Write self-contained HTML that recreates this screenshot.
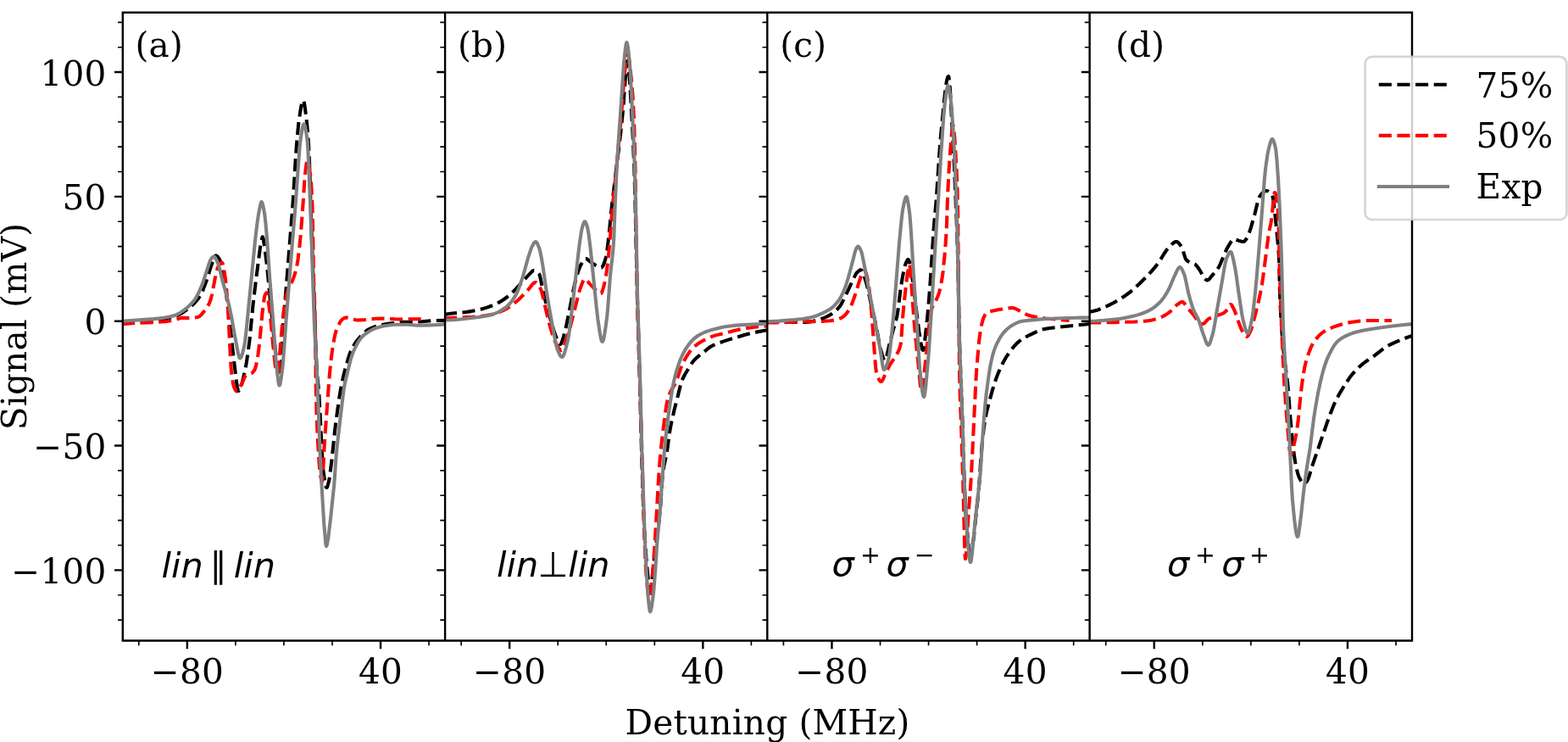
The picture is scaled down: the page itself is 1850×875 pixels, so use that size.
<!DOCTYPE html>
<html><head><meta charset="utf-8"><title>Signal vs Detuning</title>
<style>html,body{margin:0;padding:0;background:#fff;overflow:hidden}svg{display:block}</style>
</head><body>
<svg width="1850" height="875" viewBox="0 0 1850 875"><defs>
<clipPath id="c0"><rect x="144.8" y="14.7" width="380.3" height="740.8"/></clipPath>
<clipPath id="c1"><rect x="525.1" y="14.7" width="380.2" height="740.8"/></clipPath>
<clipPath id="c2"><rect x="905.3" y="14.7" width="380.3" height="740.8"/></clipPath>
<clipPath id="c3"><rect x="1285.6" y="14.7" width="380.4" height="740.8"/></clipPath>
</defs>
<g clip-path="url(#c0)" fill="none" stroke-width="4.08">
<path d="M144.00 380.20 L162.20 380.06 L170.40 379.83 L178.65 378.97 L190.85 377.09 L195.40 376.18 L199.75 375.11 L204.00 373.87 L208.15 372.44 L210.45 371.47 L212.85 370.24 L215.35 368.74 L218.05 366.93 L224.15 362.28 L226.60 360.15 L228.80 358.02 L230.95 355.70 L233.00 353.21 L235.00 350.49 L236.65 347.94 L238.10 345.12 L239.65 341.57 L244.00 330.00 L245.30 326.07 L248.90 314.02 L252.30 304.98 L253.25 302.93 L254.05 301.79 L254.75 301.40 L255.65 301.66 L256.75 302.64 L258.05 304.45 L259.30 306.55 L260.20 308.80 L261.15 312.00 L262.15 316.09 L264.50 327.81 L265.90 337.77 L269.40 366.51 L272.25 391.21 L275.10 417.59 L278.95 449.81 L279.80 455.58 L280.55 459.19 L281.20 460.81 L281.50 461.00 L281.95 460.85 L282.80 459.85 L283.70 457.91 L284.70 454.91 L285.85 450.70 L288.95 437.80 L290.10 431.71 L291.30 424.35 L293.00 412.52 L294.55 400.45 L298.65 358.22 L301.75 332.23 L307.10 291.08 L307.75 287.24 L308.95 281.43 L309.45 279.80 L309.65 279.48 L309.85 279.41 L310.25 280.12 L310.70 281.99 L312.25 291.54 L314.45 308.90 L315.95 323.34 L322.60 391.83 L326.60 428.71 L327.35 433.91 L328.00 437.00 L329.50 441.74 L330.05 442.72 L330.30 442.94 L330.55 442.97 L330.80 442.13 L331.05 440.19 L331.60 432.80 L333.45 394.43 L334.15 382.88 L345.00 247.26 L346.25 229.12 L348.85 185.45 L350.35 165.81 L352.20 146.15 L354.05 133.11 L355.20 126.14 L356.10 121.79 L356.95 119.13 L357.35 118.49 L357.70 118.30 L358.05 118.58 L358.45 119.55 L359.25 123.18 L360.15 129.23 L361.60 140.81 L362.90 153.91 L364.10 171.09 L365.05 190.97 L366.50 240.00 L369.10 316.78 L372.80 414.84 L373.60 433.31 L374.25 443.19 L375.80 457.70 L376.55 467.85 L377.45 484.41 L379.65 530.61 L380.75 548.37 L381.30 554.00 L383.05 566.68 L384.05 571.98 L384.50 573.61 L384.95 574.64 L385.30 574.98 L385.70 574.85 L386.10 574.23 L386.55 573.06 L388.20 566.56 L388.95 562.30 L391.50 541.97 L394.95 508.96 L396.60 495.35 L400.20 469.61 L401.80 459.88 L403.30 452.02 L405.00 444.33 L406.95 436.61 L410.30 424.66 L412.40 417.95 L413.85 414.17 L415.65 410.49 L417.85 406.61 L420.25 402.99 L423.15 399.25 L427.05 394.84 L430.00 391.90 L432.65 389.74 L435.50 388.06 L439.30 386.32 L443.10 384.97 L447.25 383.84 L452.30 382.76 L457.80 381.80 L466.25 380.67 L471.25 380.14 L476.50 379.91 L493.50 379.57 L497.65 379.28 L511.00 378.00 L526.00 377.70" stroke="#000000" stroke-dasharray="15.1 6.53" stroke-linecap="butt" stroke-linejoin="round"/>
<path d="M144.00 382.20 L159.25 381.07 L184.95 379.97 L195.10 379.28 L198.35 378.83 L202.10 378.03 L210.15 375.96 L213.70 374.85 L215.95 374.82 L223.30 375.10 L226.45 375.01 L229.00 374.74 L231.70 374.27 L233.95 373.76 L235.00 373.28 L236.15 372.42 L237.50 371.09 L242.45 365.27 L244.90 361.61 L247.05 357.42 L248.60 353.02 L250.25 346.98 L253.65 328.57 L255.60 320.21 L256.70 316.14 L257.70 313.51 L259.10 311.48 L260.60 309.95 L261.30 309.58 L261.90 309.52 L262.45 310.17 L263.00 311.68 L263.60 314.15 L264.30 317.87 L266.20 330.46 L267.25 340.83 L269.20 368.26 L272.00 424.40 L272.95 438.54 L273.95 446.41 L275.00 452.41 L275.85 455.59 L277.45 459.36 L278.30 460.76 L279.05 461.42 L279.80 461.42 L280.65 460.80 L281.50 459.66 L282.50 457.87 L286.05 450.73 L288.55 445.00 L289.65 443.12 L290.20 442.57 L291.20 442.04 L295.55 440.82 L296.60 440.35 L297.45 439.80 L298.55 438.75 L299.60 437.38 L300.75 435.40 L301.25 434.11 L302.20 430.47 L303.45 424.37 L304.35 418.74 L305.35 411.30 L306.40 401.80 L309.70 367.15 L311.35 354.31 L312.00 350.40 L312.55 348.18 L313.60 346.06 L314.00 345.53 L314.40 345.24 L314.75 345.27 L315.10 345.90 L315.85 349.14 L318.30 367.33 L319.25 376.21 L321.60 401.26 L324.00 424.27 L324.90 431.66 L325.45 434.97 L325.95 436.88 L327.15 439.32 L327.65 439.88 L328.05 439.98 L328.25 439.52 L328.50 438.16 L328.95 433.92 L330.80 407.33 L333.45 378.21 L334.70 367.10 L336.30 357.00 L338.10 347.88 L339.00 344.25 L339.85 341.43 L341.25 338.03 L343.80 333.54 L344.80 331.48 L346.70 326.62 L348.15 322.23 L349.20 318.40 L350.15 314.29 L351.55 305.80 L353.55 289.20 L355.05 273.62 L357.70 238.22 L359.15 215.25 L359.80 206.87 L360.85 198.06 L361.65 192.58 L362.35 189.60 L362.65 189.07 L362.95 189.05 L363.25 189.45 L363.60 190.36 L364.35 193.68 L365.20 199.08 L366.30 207.46 L367.35 219.65 L368.25 236.17 L368.75 252.79 L370.00 325.00 L370.45 339.39 L371.45 363.95 L371.95 382.60 L372.75 457.27 L373.65 491.06 L374.25 505.68 L375.10 521.81 L376.05 537.94 L376.90 549.85 L377.60 557.11 L378.30 561.77 L379.25 566.51 L379.65 567.65 L380.00 568.00 L380.20 567.57 L380.45 565.92 L380.90 560.38 L382.70 524.88 L383.80 508.81 L388.40 446.91 L389.30 436.90 L390.60 424.53 L391.70 415.57 L392.75 408.41 L394.15 400.22 L395.40 394.27 L396.60 390.04 L398.00 386.20 L399.35 383.28 L401.45 379.58 L402.75 377.74 L403.90 376.58 L406.25 375.00 L407.10 374.64 L407.90 374.50 L409.50 374.60 L411.55 374.97 L415.00 375.74 L419.65 377.18 L421.85 377.50 L430.60 377.09 L443.55 375.82 L449.20 375.51 L454.75 375.61 L466.15 376.32 L471.00 376.49 L490.55 376.21 L501.00 376.20" stroke="#ff0000" stroke-dasharray="15.1 6.53" stroke-linecap="butt" stroke-linejoin="round"/>
<path d="M144.00 378.70 L181.25 376.10 L188.45 375.39 L194.85 374.51 L201.35 373.24 L207.00 371.67 L208.80 370.91 L210.70 369.92 L215.05 367.13 L220.50 363.06 L224.70 359.24 L226.80 356.99 L228.80 354.58 L230.45 352.37 L231.85 350.13 L234.95 344.05 L238.55 335.60 L240.00 331.44 L246.50 311.32 L247.90 307.54 L248.85 305.71 L250.55 303.52 L251.60 302.65 L252.05 302.51 L252.50 302.55 L253.00 302.81 L253.50 303.29 L254.60 304.93 L257.05 310.11 L257.75 311.99 L259.00 316.49 L261.90 328.62 L267.25 348.06 L270.40 360.99 L273.10 373.50 L277.10 396.38 L281.05 417.00 L281.80 419.98 L282.45 421.73 L283.05 422.47 L283.35 422.48 L283.70 422.29 L284.30 421.52 L284.90 420.27 L286.25 416.08 L288.15 408.32 L289.10 402.47 L290.60 389.21 L300.65 287.49 L301.95 275.42 L303.80 260.68 L305.20 251.58 L307.40 240.58 L308.10 238.50 L308.40 238.08 L308.70 238.02 L309.25 238.72 L309.80 240.28 L311.15 246.49 L312.30 253.21 L313.40 263.07 L315.10 282.35 L317.90 323.65 L322.10 376.31 L325.40 422.71 L327.25 441.01 L328.20 449.00 L329.05 453.55 L329.45 454.43 L329.65 454.49 L329.85 454.35 L330.25 453.56 L330.65 452.16 L331.60 446.99 L333.15 435.84 L333.95 427.76 L337.45 379.29 L344.65 289.28 L348.75 240.65 L351.30 204.04 L353.80 171.19 L354.70 163.64 L355.85 156.13 L356.75 151.17 L357.35 148.65 L357.90 147.08 L358.45 146.34 L358.70 146.32 L358.95 146.50 L359.60 147.85 L360.25 150.32 L361.70 158.96 L362.75 167.40 L363.50 178.92 L364.45 200.15 L366.80 260.88 L370.85 381.41 L371.60 397.36 L373.40 427.40 L374.20 443.42 L377.85 541.08 L379.40 570.51 L382.30 618.13 L384.05 638.57 L384.60 642.63 L384.85 643.64 L385.10 644.00 L385.50 643.45 L385.90 642.01 L387.30 634.17 L390.10 610.75 L394.20 571.67 L394.90 562.95 L396.25 541.87 L397.70 526.16 L404.50 468.05 L405.80 458.15 L406.55 453.69 L407.55 448.96 L414.05 422.79 L415.30 418.97 L416.95 414.67 L418.65 410.84 L420.55 407.09 L423.30 402.28 L425.65 398.89 L428.30 396.08 L431.40 393.48 L436.00 390.46 L440.60 388.02 L444.85 386.42 L450.30 384.88 L453.55 384.23 L458.90 383.49 L462.95 383.04 L466.45 382.83 L481.40 382.82 L492.15 383.69 L496.45 383.80 L512.25 383.27 L526.00 382.40" stroke="#808080" stroke-linecap="square" stroke-linejoin="round"/>
</g>
<g clip-path="url(#c1)" fill="none" stroke-width="4.08">
<path d="M524.00 371.00 L531.80 369.78 L549.95 368.01 L555.75 367.12 L561.60 366.00 L569.10 364.23 L574.50 362.66 L580.30 360.52 L586.30 357.86 L589.95 355.91 L593.80 353.51 L598.00 350.53 L601.70 347.59 L604.60 344.90 L608.00 341.42 L615.15 333.76 L621.50 326.54 L627.25 320.55 L628.30 319.65 L629.20 319.16 L629.95 319.00 L630.95 319.12 L632.50 319.78 L634.10 321.00 L636.05 323.06 L636.65 324.30 L637.75 328.46 L640.40 342.32 L642.05 349.18 L645.85 363.42 L653.15 389.04 L655.35 395.44 L658.00 401.80 L659.00 403.92 L659.80 405.19 L660.55 405.88 L661.20 405.96 L661.85 405.40 L662.75 403.66 L663.75 400.78 L666.35 391.79 L667.45 387.39 L672.80 361.08 L676.55 341.74 L678.50 332.93 L680.40 325.95 L682.05 320.46 L683.50 316.33 L684.85 313.28 L687.20 308.93 L688.65 306.69 L690.00 305.34 L690.60 305.06 L691.20 305.01 L692.10 305.24 L693.10 305.81 L696.65 308.75 L702.35 312.66 L707.05 315.01 L708.55 315.43 L709.70 315.45 L710.25 315.12 L710.85 314.43 L712.05 312.18 L713.50 308.25 L715.05 303.03 L715.95 297.97 L717.00 289.81 L718.85 273.40 L720.95 251.41 L722.40 238.16 L730.85 168.86 L732.70 152.79 L734.20 138.26 L735.50 124.00 L737.55 95.38 L739.00 78.31 L739.60 73.18 L739.85 72.18 L740.00 72.00 L740.15 72.10 L740.45 72.88 L740.75 74.32 L741.45 79.63 L742.65 91.58 L743.35 100.96 L746.65 160.22 L748.30 198.33 L749.10 225.64 L752.05 354.44 L754.50 436.35 L757.10 537.38 L758.25 574.78 L759.15 598.85 L760.90 634.98 L762.40 657.71 L764.25 677.91 L765.40 688.42 L766.45 694.88 L766.95 696.50 L767.20 696.90 L767.40 697.00 L767.70 696.67 L768.05 695.50 L768.80 690.69 L771.70 660.86 L776.10 626.84 L777.80 612.17 L779.30 596.34 L781.40 564.09 L781.80 560.00 L782.55 554.50 L783.60 548.52 L785.80 538.51 L786.70 533.81 L787.50 528.60 L789.85 510.93 L791.10 503.81 L792.55 496.61 L795.50 483.57 L800.15 465.41 L802.80 454.44 L804.05 450.18 L805.55 446.50 L808.00 441.72 L814.20 431.46 L816.65 427.67 L818.65 425.08 L820.70 422.97 L823.00 420.94 L829.65 415.82 L835.95 410.48 L838.85 408.48 L841.35 407.20 L844.15 405.98 L853.35 402.62 L861.00 400.17 L879.15 394.77 L884.90 393.25 L892.40 391.62 L899.50 390.29 L906.00 389.30" stroke="#000000" stroke-dasharray="15.1 6.53" stroke-linecap="butt" stroke-linejoin="round"/>
<path d="M524.00 375.50 L533.55 374.80 L556.85 373.80 L566.75 373.00 L573.70 372.09 L580.40 370.92 L584.10 369.96 L588.15 368.54 L594.15 365.93 L597.70 364.03 L602.25 361.03 L607.60 356.95 L610.75 354.37 L613.10 352.20 L622.25 342.74 L623.80 340.93 L627.25 336.44 L628.85 334.67 L629.85 333.83 L630.75 333.29 L631.60 333.03 L632.40 333.05 L633.05 333.34 L633.75 333.91 L635.25 335.86 L638.00 341.00 L638.80 343.09 L639.90 347.16 L642.65 359.56 L647.90 381.08 L651.60 393.57 L654.25 401.20 L655.55 404.14 L657.75 408.23 L659.05 410.43 L660.15 411.90 L661.15 412.75 L662.05 413.00 L662.85 412.66 L663.70 411.71 L664.85 409.61 L666.10 406.54 L671.10 391.64 L673.35 383.48 L683.20 344.53 L684.45 340.50 L686.70 334.42 L687.75 331.83 L688.60 330.19 L689.25 329.36 L689.85 329.02 L690.60 329.11 L691.45 329.62 L692.70 330.88 L695.65 334.63 L700.80 339.93 L706.15 344.76 L707.50 345.62 L708.70 345.98 L709.20 345.96 L709.60 345.62 L710.10 344.79 L710.60 343.58 L711.70 339.97 L713.55 332.71 L714.75 326.37 L716.10 317.44 L717.15 309.32 L718.15 299.59 L719.70 282.12 L722.45 246.21 L726.75 204.52 L731.75 150.46 L733.70 127.53 L735.80 98.24 L736.70 87.71 L738.25 74.65 L739.15 68.35 L740.00 64.66 L740.40 64.03 L740.75 64.17 L741.10 64.94 L741.50 66.49 L742.30 71.27 L744.20 86.67 L745.10 95.13 L746.65 115.05 L747.90 138.84 L748.80 167.11 L749.60 204.00 L750.60 285.40 L751.85 351.17 L752.65 379.44 L754.95 448.37 L760.05 627.53 L761.55 663.51 L762.10 672.41 L763.05 684.61 L763.80 692.16 L764.45 696.73 L765.80 703.05 L766.30 704.47 L766.55 704.86 L766.80 705.00 L767.15 703.89 L767.50 701.05 L768.40 690.98 L770.15 673.93 L771.25 660.37 L773.15 631.47 L777.20 561.61 L778.35 545.67 L779.55 532.26 L780.85 519.77 L784.90 487.11 L786.00 479.70 L786.95 474.38 L787.80 470.70 L788.85 467.39 L790.00 464.39 L791.30 461.59 L795.90 453.64 L797.75 449.85 L799.45 445.42 L803.20 434.35 L804.70 430.50 L807.85 424.17 L811.10 418.60 L814.15 414.27 L817.45 410.55 L821.20 407.10 L825.20 404.17 L829.70 401.57 L835.85 398.64 L840.60 396.62 L844.40 395.37 L853.45 393.34 L864.95 390.26 L875.35 387.86 L880.90 386.91 L888.25 385.98 L897.70 385.09 L906.00 384.50" stroke="#ff0000" stroke-dasharray="15.1 6.53" stroke-linecap="butt" stroke-linejoin="round"/>
<path d="M524.00 377.50 L534.70 377.21 L545.60 376.32 L564.70 373.98 L570.30 373.11 L575.25 372.15 L581.55 370.55 L584.15 369.62 L586.75 368.50 L589.65 367.02 L592.55 365.31 L595.90 363.07 L597.90 361.51 L601.25 358.23 L604.55 354.16 L608.10 348.84 L610.10 344.91 L612.80 338.15 L616.60 327.18 L618.30 321.41 L622.85 304.72 L626.55 293.28 L627.75 290.46 L630.00 286.64 L631.20 285.30 L631.75 285.03 L632.25 285.04 L633.00 285.62 L633.85 286.94 L636.10 292.26 L637.10 295.77 L638.40 301.92 L640.30 312.55 L644.40 341.16 L647.50 360.09 L650.80 378.71 L654.85 400.31 L656.25 407.03 L657.70 412.23 L660.35 418.19 L661.25 419.68 L662.10 420.63 L662.90 421.00 L663.60 420.78 L664.30 420.01 L665.05 418.65 L665.85 416.65 L666.70 414.03 L668.05 409.07 L670.00 401.00 L670.95 396.10 L671.95 389.33 L673.10 380.12 L677.90 338.82 L682.70 295.98 L683.95 286.05 L685.60 274.84 L686.70 269.10 L687.85 265.24 L688.70 262.88 L689.40 261.59 L689.75 261.27 L690.05 261.20 L690.55 261.53 L691.10 262.42 L692.35 265.84 L693.40 269.60 L694.35 275.03 L696.60 292.48 L704.00 364.69 L705.40 376.84 L707.75 392.34 L709.00 399.14 L709.55 401.24 L710.10 402.58 L710.60 403.00 L710.85 402.91 L711.15 402.56 L711.65 401.47 L712.15 399.78 L713.25 394.34 L714.50 386.14 L716.25 372.96 L717.25 361.94 L720.00 325.00 L720.80 317.20 L722.60 302.14 L723.50 292.53 L724.05 284.92 L724.40 277.95 L725.70 242.45 L727.10 209.94 L728.10 191.49 L729.35 171.52 L732.85 122.18 L735.05 88.07 L736.00 75.26 L737.40 61.48 L738.25 54.41 L739.00 50.60 L739.30 50.04 L739.45 50.01 L739.65 50.20 L740.00 51.09 L740.40 52.87 L741.25 58.73 L742.65 71.47 L743.35 80.25 L744.95 108.63 L747.60 165.20 L748.80 197.81 L749.65 227.66 L750.65 272.29 L751.80 336.04 L752.40 360.26 L754.90 436.49 L757.40 533.58 L760.50 626.76 L761.90 659.70 L763.90 694.55 L764.45 701.48 L765.85 715.39 L766.50 719.78 L766.80 720.90 L767.10 721.30 L767.50 720.94 L767.90 719.91 L768.85 715.35 L770.75 701.62 L771.45 694.97 L773.40 669.61 L775.25 640.66 L776.10 630.56 L778.95 600.63 L780.95 570.69 L783.35 538.60 L784.85 521.50 L786.80 503.77 L788.60 489.85 L791.00 473.24 L792.95 460.91 L794.60 451.89 L796.30 444.32 L798.20 437.28 L800.65 429.59 L803.00 423.28 L805.75 417.33 L808.90 411.72 L812.55 406.41 L816.25 401.89 L819.25 399.00 L823.30 396.00 L827.20 393.75 L832.15 391.50 L837.50 389.61 L843.45 387.99 L854.00 385.56 L861.35 384.42 L868.65 383.61 L877.60 382.98 L892.45 382.26 L906.00 381.80" stroke="#808080" stroke-linecap="square" stroke-linejoin="round"/>
</g>
<g clip-path="url(#c2)" fill="none" stroke-width="4.08">
<path d="M904.00 380.00 L950.10 380.00 L953.35 379.82 L955.95 379.47 L958.75 378.91 L965.30 377.12 L972.30 374.83 L974.80 373.75 L977.40 372.41 L981.90 369.67 L985.10 367.26 L988.30 364.23 L991.15 360.84 L992.90 358.05 L994.95 354.14 L1000.40 342.81 L1005.50 331.62 L1009.65 323.38 L1010.80 321.71 L1013.20 319.40 L1014.65 318.50 L1015.30 318.32 L1015.85 318.34 L1016.40 318.71 L1016.95 319.41 L1018.20 321.98 L1021.20 330.58 L1022.30 334.33 L1023.65 339.88 L1026.55 353.04 L1033.05 381.35 L1034.35 387.87 L1037.20 403.95 L1038.45 409.91 L1040.80 418.38 L1042.05 422.21 L1042.65 423.58 L1043.20 424.48 L1043.70 424.92 L1044.20 424.95 L1044.60 424.57 L1045.05 423.73 L1046.00 420.82 L1049.20 406.75 L1054.20 387.76 L1057.10 377.84 L1058.40 372.38 L1059.65 364.66 L1062.80 338.87 L1065.15 325.27 L1066.85 316.86 L1067.85 312.95 L1068.80 310.22 L1070.45 306.88 L1071.05 306.18 L1071.55 306.00 L1071.95 306.31 L1072.40 307.18 L1073.30 310.31 L1074.25 315.02 L1076.25 326.44 L1077.55 335.64 L1080.65 362.22 L1084.35 391.00 L1086.60 404.58 L1087.50 409.28 L1088.00 411.24 L1088.45 412.44 L1088.90 412.98 L1089.25 412.81 L1089.70 411.59 L1090.15 409.40 L1091.25 401.13 L1094.10 374.73 L1096.10 352.32 L1097.75 330.50 L1101.65 269.61 L1104.60 236.50 L1108.30 181.26 L1109.80 162.10 L1113.55 122.65 L1115.45 105.44 L1116.40 98.71 L1117.30 93.89 L1118.15 91.01 L1118.60 90.23 L1119.00 90.00 L1119.30 90.44 L1119.60 91.71 L1120.25 96.97 L1120.95 105.78 L1121.80 119.59 L1125.65 190.98 L1128.70 261.27 L1130.15 305.84 L1131.60 382.81 L1132.20 406.85 L1133.00 430.12 L1134.95 478.57 L1137.25 553.66 L1138.35 581.93 L1139.50 605.25 L1140.45 619.42 L1141.80 634.48 L1142.70 643.11 L1143.55 649.05 L1143.95 650.82 L1144.30 651.74 L1144.50 651.97 L1144.70 651.99 L1145.20 651.49 L1145.70 650.37 L1146.25 648.51 L1147.50 642.48 L1148.90 633.77 L1150.30 619.02 L1153.35 591.12 L1154.75 576.83 L1155.60 566.30 L1157.65 536.29 L1159.10 519.94 L1160.65 505.63 L1162.35 494.36 L1163.55 488.09 L1164.75 482.86 L1170.50 461.43 L1172.40 455.07 L1175.15 446.81 L1177.75 439.89 L1180.55 433.51 L1183.65 427.23 L1187.45 420.60 L1192.00 414.03 L1196.65 408.18 L1198.80 405.83 L1200.90 403.82 L1202.60 402.40 L1205.00 400.65 L1209.90 397.59 L1214.75 395.04 L1225.45 389.91 L1227.65 389.05 L1229.75 388.51 L1233.70 387.74 L1238.35 387.05 L1258.65 384.66 L1286.00 382.00" stroke="#000000" stroke-dasharray="15.1 6.53" stroke-linecap="butt" stroke-linejoin="round"/>
<path d="M904.00 380.60 L915.60 380.41 L930.45 379.98 L947.55 379.03 L963.50 379.20 L971.95 378.84 L979.60 378.23 L985.60 377.36 L989.00 376.38 L992.75 374.76 L994.30 373.85 L995.70 372.84 L996.85 371.80 L998.05 370.48 L1000.80 366.68 L1003.60 361.86 L1005.90 356.37 L1009.45 346.16 L1013.55 332.62 L1016.55 323.45 L1017.35 321.73 L1018.65 319.92 L1019.55 319.12 L1019.95 319.00 L1020.25 319.07 L1020.90 319.85 L1021.65 321.67 L1022.45 324.41 L1023.45 328.57 L1024.65 334.50 L1025.85 343.64 L1028.35 368.93 L1032.55 425.89 L1033.15 432.90 L1033.65 437.18 L1033.95 438.81 L1034.95 442.20 L1035.90 444.93 L1036.80 447.02 L1037.60 448.45 L1038.40 449.43 L1039.20 449.94 L1039.90 449.94 L1040.70 449.27 L1041.65 447.70 L1044.65 440.71 L1049.90 430.17 L1051.70 427.35 L1055.80 421.78 L1057.70 418.59 L1059.70 414.75 L1060.60 412.75 L1061.50 410.21 L1062.30 407.27 L1063.00 404.00 L1063.30 401.57 L1064.75 378.40 L1065.25 372.06 L1066.65 357.38 L1068.85 337.41 L1069.95 328.15 L1070.85 321.88 L1072.25 313.85 L1072.65 312.44 L1072.85 312.09 L1073.05 312.02 L1073.30 312.60 L1073.60 314.27 L1074.20 320.14 L1078.50 378.88 L1080.40 400.20 L1083.35 428.33 L1085.85 454.19 L1086.80 460.42 L1087.25 461.79 L1087.45 461.99 L1087.65 461.91 L1087.95 461.21 L1088.30 459.64 L1089.05 454.13 L1091.80 427.49 L1094.60 398.58 L1097.00 377.33 L1098.25 368.39 L1098.90 365.34 L1099.90 362.49 L1100.90 360.41 L1103.00 356.95 L1103.90 355.22 L1106.45 349.46 L1108.05 344.83 L1109.30 339.99 L1110.50 334.13 L1111.75 326.66 L1112.65 320.03 L1114.45 301.56 L1115.80 285.28 L1116.45 275.77 L1117.05 263.74 L1117.55 245.43 L1118.45 223.38 L1119.40 204.21 L1120.40 188.00 L1122.15 165.51 L1123.05 155.59 L1123.85 149.69 L1124.25 148.26 L1124.45 148.01 L1124.60 148.05 L1124.85 148.63 L1125.10 149.81 L1125.60 153.76 L1126.80 169.65 L1128.65 202.01 L1129.60 227.83 L1130.20 257.22 L1131.60 408.23 L1132.10 443.70 L1132.70 465.81 L1133.90 497.06 L1136.10 563.25 L1138.10 643.54 L1138.55 654.78 L1138.80 658.13 L1139.00 659.00 L1139.25 658.54 L1139.55 656.87 L1140.20 649.78 L1142.80 602.95 L1145.15 572.63 L1146.00 560.00 L1151.45 448.16 L1152.60 430.42 L1154.65 407.20 L1155.50 399.48 L1156.45 392.42 L1157.40 386.49 L1158.25 382.42 L1159.55 377.45 L1160.75 374.05 L1162.25 371.10 L1163.45 369.44 L1164.90 368.52 L1167.30 367.55 L1170.45 366.72 L1178.80 365.09 L1190.80 363.24 L1194.25 363.00 L1196.20 363.33 L1198.50 364.21 L1205.40 367.68 L1210.20 370.37 L1212.35 371.41 L1214.05 372.01 L1218.00 373.01 L1224.55 374.23 L1233.40 375.42 L1261.50 378.00" stroke="#ff0000" stroke-dasharray="15.1 6.53" stroke-linecap="butt" stroke-linejoin="round"/>
<path d="M904.00 379.40 L918.70 378.64 L937.00 377.09 L947.30 375.94 L956.15 374.43 L959.95 373.51 L962.25 372.77 L971.30 368.82 L974.60 367.24 L977.65 365.58 L979.95 364.17 L981.90 362.74 L983.50 361.28 L985.50 359.13 L988.25 355.96 L990.00 353.65 L991.40 351.45 L992.80 348.92 L995.65 342.85 L998.00 336.71 L1000.80 327.48 L1003.45 317.99 L1009.10 296.08 L1010.35 293.02 L1011.20 291.36 L1011.90 290.59 L1012.20 290.50 L1012.60 290.59 L1013.25 291.06 L1013.95 291.96 L1015.70 295.34 L1016.50 297.40 L1017.40 301.09 L1020.45 316.25 L1024.80 339.95 L1031.90 376.48 L1038.05 409.27 L1041.45 431.60 L1042.00 434.05 L1042.55 435.58 L1043.00 436.00 L1043.75 435.66 L1044.65 434.46 L1045.60 432.41 L1046.70 429.30 L1048.05 424.82 L1048.95 420.47 L1049.90 413.84 L1051.50 399.61 L1054.10 373.45 L1061.05 285.61 L1063.65 258.60 L1065.00 247.82 L1066.65 239.51 L1067.50 235.95 L1068.20 233.70 L1068.90 232.32 L1069.20 232.05 L1069.50 232.02 L1069.95 232.61 L1070.45 234.12 L1071.60 240.13 L1073.20 251.58 L1074.10 261.35 L1075.20 277.69 L1077.80 321.94 L1082.15 387.28 L1084.35 423.30 L1085.25 435.38 L1087.05 452.42 L1088.25 461.78 L1088.80 464.91 L1089.30 466.90 L1089.80 467.91 L1090.05 467.99 L1090.25 467.82 L1090.75 466.44 L1091.25 463.87 L1092.35 454.90 L1095.20 422.72 L1096.15 410.26 L1099.70 353.68 L1104.50 272.78 L1107.15 233.85 L1110.25 181.30 L1113.30 137.67 L1114.60 123.28 L1116.55 108.76 L1117.20 104.93 L1117.80 102.38 L1118.35 101.14 L1118.60 101.00 L1118.85 101.16 L1119.20 101.87 L1119.60 103.30 L1120.50 108.41 L1122.10 120.83 L1122.80 127.93 L1124.50 152.56 L1126.50 189.63 L1127.90 223.63 L1129.05 259.70 L1130.10 304.54 L1131.50 378.53 L1132.15 405.18 L1132.95 428.81 L1135.00 480.00 L1137.80 569.15 L1139.65 607.25 L1141.80 637.22 L1142.80 649.35 L1143.60 657.00 L1144.35 661.61 L1144.70 662.69 L1145.00 663.00 L1145.40 662.48 L1145.85 660.76 L1146.80 653.98 L1149.75 622.32 L1156.30 562.20 L1157.10 551.75 L1158.90 521.45 L1160.60 497.90 L1162.25 478.02 L1163.80 463.59 L1167.05 439.55 L1168.15 432.90 L1169.55 425.87 L1171.00 419.61 L1172.40 414.69 L1174.30 409.35 L1176.35 404.70 L1179.15 399.48 L1181.95 395.09 L1184.40 391.99 L1188.00 388.26 L1191.35 385.46 L1194.90 383.22 L1199.55 380.79 L1201.60 379.95 L1203.50 379.33 L1207.30 378.58 L1212.55 377.90 L1225.60 376.63 L1234.95 375.99 L1245.95 375.45 L1259.85 375.00 L1274.05 374.64 L1286.00 374.50" stroke="#808080" stroke-linecap="square" stroke-linejoin="round"/>
</g>
<g clip-path="url(#c3)" fill="none" stroke-width="4.08">
<path d="M1284.00 368.00 L1289.60 367.09 L1294.35 365.80 L1299.80 363.74 L1306.75 360.56 L1314.05 356.96 L1320.60 353.24 L1327.60 348.69 L1333.60 344.25 L1338.55 340.03 L1344.20 334.74 L1352.00 326.97 L1357.75 320.86 L1362.50 315.37 L1366.70 310.06 L1368.90 306.74 L1374.20 298.04 L1376.90 294.25 L1381.40 289.32 L1383.35 287.38 L1385.25 285.92 L1386.95 285.14 L1387.80 285.01 L1388.50 285.06 L1389.25 285.37 L1390.00 285.90 L1391.75 287.80 L1394.15 291.24 L1395.35 294.17 L1398.15 303.42 L1398.85 305.12 L1399.45 306.06 L1401.20 307.77 L1403.20 309.09 L1405.00 309.91 L1409.00 311.12 L1410.00 311.62 L1410.85 312.27 L1412.75 314.49 L1416.05 319.38 L1419.45 326.02 L1420.70 327.98 L1422.35 329.48 L1423.60 330.29 L1424.60 330.50 L1425.60 330.12 L1426.90 328.92 L1429.70 325.34 L1434.45 320.01 L1436.35 317.52 L1438.00 315.00 L1439.80 311.33 L1443.65 301.77 L1447.75 292.96 L1449.65 289.53 L1452.60 284.97 L1453.95 283.21 L1455.20 282.20 L1455.75 282.02 L1456.35 282.03 L1461.80 283.95 L1465.10 284.79 L1467.10 285.00 L1467.80 284.77 L1468.55 284.19 L1470.40 281.86 L1471.45 280.27 L1472.45 278.10 L1474.40 272.89 L1475.80 268.63 L1480.40 252.54 L1484.10 237.08 L1484.90 234.44 L1485.60 232.70 L1487.15 230.38 L1489.05 228.02 L1490.65 226.47 L1492.10 225.50 L1493.50 225.04 L1494.90 225.08 L1496.40 225.58 L1497.90 226.54 L1499.50 228.07 L1501.05 230.08 L1501.50 231.43 L1502.00 234.05 L1502.80 239.92 L1504.75 256.52 L1508.10 290.86 L1508.70 298.68 L1509.10 306.50 L1509.90 341.77 L1510.55 358.85 L1511.45 376.32 L1512.65 394.18 L1513.80 408.01 L1515.15 421.35 L1516.05 428.48 L1518.15 442.88 L1519.20 451.96 L1520.10 462.40 L1522.70 496.73 L1524.70 517.44 L1526.15 530.90 L1527.15 538.70 L1528.10 544.54 L1529.90 553.38 L1531.50 559.55 L1532.80 563.09 L1535.25 567.63 L1536.85 569.72 L1537.60 570.28 L1538.30 570.50 L1538.90 570.42 L1539.55 570.08 L1541.10 568.59 L1542.50 566.76 L1543.65 564.24 L1544.90 560.56 L1548.25 549.44 L1565.50 499.18 L1570.35 485.93 L1573.70 477.57 L1577.15 470.32 L1581.25 462.84 L1587.95 451.87 L1592.70 444.85 L1595.60 441.19 L1599.40 436.95 L1603.15 433.20 L1607.00 429.77 L1611.55 426.25 L1621.95 419.20 L1631.05 412.05 L1634.70 409.42 L1639.20 406.81 L1645.10 404.06 L1657.05 399.14 L1667.00 395.50" stroke="#000000" stroke-dasharray="15.1 6.53" stroke-linecap="butt" stroke-linejoin="round"/>
<path d="M1284.00 380.60 L1313.30 380.14 L1338.70 379.46 L1344.75 379.13 L1350.40 378.66 L1356.20 377.97 L1359.40 377.39 L1363.60 376.27 L1368.25 374.68 L1371.60 373.31 L1374.70 371.63 L1377.80 369.61 L1380.70 367.43 L1382.30 365.85 L1385.95 361.83 L1387.75 360.19 L1392.30 356.86 L1393.70 356.22 L1395.00 356.00 L1395.50 356.09 L1396.00 356.36 L1397.15 357.48 L1400.60 362.51 L1408.05 371.06 L1411.85 376.54 L1413.25 378.29 L1415.45 380.21 L1416.95 381.31 L1418.15 381.87 L1419.25 381.98 L1420.10 381.68 L1421.00 381.04 L1424.75 376.98 L1425.60 376.25 L1426.55 375.70 L1430.65 373.92 L1441.70 370.09 L1444.40 368.75 L1445.90 367.42 L1448.05 364.94 L1448.75 363.85 L1450.80 359.99 L1451.45 359.23 L1452.05 359.00 L1452.85 359.42 L1453.70 360.53 L1456.55 366.17 L1457.75 369.34 L1460.80 378.47 L1463.80 386.37 L1465.40 389.94 L1467.95 394.19 L1469.35 396.05 L1470.00 396.63 L1470.65 396.95 L1471.20 396.98 L1471.75 396.73 L1472.85 395.49 L1474.15 393.11 L1476.25 388.41 L1477.35 385.10 L1483.60 361.01 L1486.00 350.49 L1487.75 341.99 L1489.10 334.39 L1490.10 327.62 L1496.45 278.49 L1497.35 273.03 L1499.35 263.61 L1500.20 258.65 L1503.05 230.64 L1503.65 227.54 L1503.90 227.05 L1504.20 227.06 L1504.70 227.77 L1505.20 229.23 L1506.25 234.63 L1507.45 244.37 L1508.20 253.26 L1508.70 269.03 L1509.90 321.50 L1511.40 368.73 L1513.30 416.11 L1515.05 449.33 L1516.95 477.20 L1520.55 520.93 L1521.25 527.94 L1521.85 532.58 L1522.45 535.55 L1522.75 536.30 L1523.00 536.50 L1523.50 536.15 L1524.00 535.19 L1525.15 531.25 L1528.55 515.92 L1530.35 505.94 L1531.60 496.59 L1534.10 470.28 L1535.75 456.09 L1537.60 442.28 L1539.25 433.31 L1540.50 427.91 L1541.80 423.16 L1543.35 418.39 L1545.20 413.35 L1546.85 409.38 L1548.45 406.10 L1549.80 403.80 L1551.95 400.76 L1554.95 397.10 L1557.95 394.09 L1560.90 391.73 L1564.35 389.61 L1568.55 387.51 L1573.30 385.59 L1580.20 383.31 L1586.60 381.50 L1590.40 380.63 L1593.90 380.01 L1603.00 378.75 L1609.35 378.15 L1613.70 378.00 L1642.00 378.00" stroke="#ff0000" stroke-dasharray="15.1 6.53" stroke-linecap="butt" stroke-linejoin="round"/>
<path d="M1284.00 378.80 L1293.05 378.56 L1303.25 377.81 L1320.60 375.93 L1327.80 374.80 L1336.90 372.80 L1341.40 371.62 L1345.10 370.50 L1348.60 369.26 L1351.95 367.90 L1355.40 366.30 L1358.00 364.90 L1360.25 363.47 L1362.50 361.84 L1367.05 357.92 L1370.25 354.54 L1373.55 350.15 L1376.60 345.38 L1379.00 341.10 L1380.55 337.67 L1384.60 327.92 L1389.40 317.79 L1390.20 316.44 L1390.90 315.57 L1391.55 315.10 L1392.20 315.02 L1392.70 315.23 L1393.25 315.70 L1394.40 317.35 L1395.90 320.44 L1397.50 324.39 L1398.65 328.95 L1401.90 344.61 L1405.00 355.98 L1407.40 363.43 L1409.10 367.50 L1412.75 374.29 L1414.30 377.74 L1415.65 381.60 L1419.05 392.41 L1423.25 403.86 L1424.00 405.44 L1424.65 406.42 L1425.30 406.94 L1425.90 406.93 L1426.45 406.47 L1427.00 405.62 L1428.25 402.55 L1431.05 392.82 L1431.95 388.96 L1433.15 382.40 L1435.75 366.43 L1442.40 328.77 L1444.65 315.28 L1446.05 308.19 L1446.95 305.12 L1449.35 299.74 L1450.10 298.49 L1450.80 297.63 L1451.45 297.14 L1452.05 297.00 L1452.50 297.29 L1453.00 298.12 L1454.10 301.45 L1455.20 306.21 L1457.50 317.57 L1458.60 324.48 L1461.35 344.64 L1464.10 362.98 L1465.35 370.85 L1466.40 376.44 L1468.75 385.77 L1470.15 390.32 L1470.80 391.80 L1471.40 392.69 L1472.00 393.00 L1472.55 392.71 L1473.45 391.13 L1474.45 388.08 L1475.60 383.43 L1477.25 375.76 L1478.55 367.08 L1480.15 353.04 L1481.45 340.55 L1482.65 327.18 L1487.80 265.07 L1491.85 211.94 L1492.65 203.16 L1493.50 195.94 L1495.30 183.39 L1496.15 178.73 L1496.95 175.19 L1498.65 168.75 L1499.70 165.64 L1500.20 164.66 L1500.65 164.13 L1501.10 164.01 L1501.60 164.32 L1502.50 165.87 L1503.45 168.66 L1504.80 174.09 L1505.40 177.39 L1506.55 189.23 L1508.15 212.33 L1509.85 246.57 L1511.50 288.60 L1512.30 314.97 L1513.65 373.97 L1514.30 392.24 L1515.10 408.17 L1516.85 436.37 L1521.00 510.00 L1524.05 575.82 L1524.95 589.44 L1526.65 607.42 L1527.90 618.86 L1528.75 625.14 L1529.55 629.58 L1530.30 632.17 L1530.65 632.79 L1531.00 633.00 L1531.40 632.53 L1531.80 631.22 L1532.70 625.99 L1535.10 607.33 L1537.95 581.09 L1540.40 561.86 L1542.15 549.73 L1545.50 529.70 L1549.80 495.18 L1551.70 482.79 L1553.75 470.76 L1555.65 460.74 L1557.65 451.27 L1559.55 443.16 L1561.30 436.67 L1563.65 429.23 L1565.75 423.47 L1567.35 419.81 L1570.55 413.57 L1572.90 409.47 L1575.05 406.19 L1577.10 403.60 L1579.05 401.70 L1582.85 398.96 L1586.90 396.57 L1591.20 394.54 L1595.85 392.81 L1601.45 391.20 L1607.85 389.74 L1614.80 388.47 L1626.10 386.67 L1635.05 385.41 L1645.10 384.19 L1656.50 382.96 L1667.00 382.00" stroke="#808080" stroke-linecap="square" stroke-linejoin="round"/>
</g>
<path d="M144.8 14.7V755.5M525.1 14.7V755.5M905.3 14.7V755.5M1285.6 14.7V755.5M1666 14.7V755.5M144.8 14.7H1666M144.8 755.5H1666" stroke="#000" stroke-width="2.4" fill="none" stroke-linecap="square"/>
<path d="M144.8 672.35h-9.8M144.8 525.52h-9.8M144.8 378.7h-9.8M144.8 231.87h-9.8M144.8 85.05h-9.8M220.86 755.5v9.8M449.04 755.5v9.8M525.1 672.35h-9.8M525.1 525.52h-9.8M525.1 378.7h-9.8M525.1 231.87h-9.8M525.1 85.05h-9.8M601.16 755.5v9.8M829.34 755.5v9.8M905.3 672.35h-9.8M905.3 525.52h-9.8M905.3 378.7h-9.8M905.3 231.87h-9.8M905.3 85.05h-9.8M981.46 755.5v9.8M1209.64 755.5v9.8M1285.6 672.35h-9.8M1285.6 525.52h-9.8M1285.6 378.7h-9.8M1285.6 231.87h-9.8M1285.6 85.05h-9.8M1361.76 755.5v9.8M1589.94 755.5v9.8" stroke="#000" stroke-width="2.4" fill="none"/>
<path d="M144.8 731.08h-5.8M144.8 701.71h-5.8M144.8 642.99h-5.8M144.8 613.62h-5.8M144.8 584.25h-5.8M144.8 554.89h-5.8M144.8 496.16h-5.8M144.8 466.79h-5.8M144.8 437.43h-5.8M144.8 408.06h-5.8M144.8 349.33h-5.8M144.8 319.97h-5.8M144.8 290.61h-5.8M144.8 261.24h-5.8M144.8 202.51h-5.8M144.8 173.14h-5.8M144.8 143.78h-5.8M144.8 114.41h-5.8M144.8 55.69h-5.8M144.8 26.32h-5.8M163.81 755.5v5.8M277.9 755.5v5.8M334.95 755.5v5.8M392 755.5v5.8M506.08 755.5v5.8M525.1 731.08h-5.8M525.1 701.71h-5.8M525.1 642.99h-5.8M525.1 613.62h-5.8M525.1 584.25h-5.8M525.1 554.89h-5.8M525.1 496.16h-5.8M525.1 466.79h-5.8M525.1 437.43h-5.8M525.1 408.06h-5.8M525.1 349.33h-5.8M525.1 319.97h-5.8M525.1 290.61h-5.8M525.1 261.24h-5.8M525.1 202.51h-5.8M525.1 173.14h-5.8M525.1 143.78h-5.8M525.1 114.41h-5.8M525.1 55.69h-5.8M525.1 26.32h-5.8M544.12 755.5v5.8M658.21 755.5v5.8M715.25 755.5v5.8M772.3 755.5v5.8M886.38 755.5v5.8M905.3 731.08h-5.8M905.3 701.71h-5.8M905.3 642.99h-5.8M905.3 613.62h-5.8M905.3 584.25h-5.8M905.3 554.89h-5.8M905.3 496.16h-5.8M905.3 466.79h-5.8M905.3 437.43h-5.8M905.3 408.06h-5.8M905.3 349.33h-5.8M905.3 319.97h-5.8M905.3 290.61h-5.8M905.3 261.24h-5.8M905.3 202.51h-5.8M905.3 173.14h-5.8M905.3 143.78h-5.8M905.3 114.41h-5.8M905.3 55.69h-5.8M905.3 26.32h-5.8M924.42 755.5v5.8M1038.51 755.5v5.8M1095.55 755.5v5.8M1152.6 755.5v5.8M1266.68 755.5v5.8M1285.6 731.08h-5.8M1285.6 701.71h-5.8M1285.6 642.99h-5.8M1285.6 613.62h-5.8M1285.6 584.25h-5.8M1285.6 554.89h-5.8M1285.6 496.16h-5.8M1285.6 466.79h-5.8M1285.6 437.43h-5.8M1285.6 408.06h-5.8M1285.6 349.33h-5.8M1285.6 319.97h-5.8M1285.6 290.61h-5.8M1285.6 261.24h-5.8M1285.6 202.51h-5.8M1285.6 173.14h-5.8M1285.6 143.78h-5.8M1285.6 114.41h-5.8M1285.6 55.69h-5.8M1285.6 26.32h-5.8M1304.72 755.5v5.8M1418.81 755.5v5.8M1475.85 755.5v5.8M1532.89 755.5v5.8M1646.99 755.5v5.8" stroke="#000" stroke-width="1.63" fill="none"/>
<text x="125.5" y="100.65" text-anchor="end" style="font-family:'DejaVu Serif','Liberation Serif',serif;letter-spacing:0.2px;font-size:40.6px">100</text>
<text x="125.5" y="247.47" text-anchor="end" style="font-family:'DejaVu Serif','Liberation Serif',serif;letter-spacing:0.2px;font-size:40.6px">50</text>
<text x="125.5" y="394.3" text-anchor="end" style="font-family:'DejaVu Serif','Liberation Serif',serif;letter-spacing:0.2px;font-size:40.6px">0</text>
<text x="125.5" y="541.12" text-anchor="end" style="font-family:'DejaVu Serif','Liberation Serif',serif;letter-spacing:0.2px;font-size:40.6px">−50</text>
<text x="125.5" y="687.95" text-anchor="end" style="font-family:'DejaVu Serif','Liberation Serif',serif;letter-spacing:0.2px;font-size:40.6px">−100</text>
<text x="220.86" y="806" text-anchor="middle" style="font-family:'DejaVu Serif','Liberation Serif',serif;letter-spacing:0.2px;font-size:40.6px">−80</text>
<text x="449.04" y="806" text-anchor="middle" style="font-family:'DejaVu Serif','Liberation Serif',serif;letter-spacing:0.2px;font-size:40.6px">40</text>
<text x="601.16" y="806" text-anchor="middle" style="font-family:'DejaVu Serif','Liberation Serif',serif;letter-spacing:0.2px;font-size:40.6px">−80</text>
<text x="829.34" y="806" text-anchor="middle" style="font-family:'DejaVu Serif','Liberation Serif',serif;letter-spacing:0.2px;font-size:40.6px">40</text>
<text x="981.46" y="806" text-anchor="middle" style="font-family:'DejaVu Serif','Liberation Serif',serif;letter-spacing:0.2px;font-size:40.6px">−80</text>
<text x="1209.64" y="806" text-anchor="middle" style="font-family:'DejaVu Serif','Liberation Serif',serif;letter-spacing:0.2px;font-size:40.6px">40</text>
<text x="1361.76" y="806" text-anchor="middle" style="font-family:'DejaVu Serif','Liberation Serif',serif;letter-spacing:0.2px;font-size:40.6px">−80</text>
<text x="1589.94" y="806" text-anchor="middle" style="font-family:'DejaVu Serif','Liberation Serif',serif;letter-spacing:0.2px;font-size:40.6px">40</text>
<text x="905.5" y="865.9" text-anchor="middle" style="font-family:'DejaVu Serif','Liberation Serif',serif;letter-spacing:0.2px;font-size:40.6px">Detuning (MHz)</text>
<text transform="translate(31.2 385) rotate(-90)" text-anchor="middle" style="font-family:'DejaVu Serif','Liberation Serif',serif;letter-spacing:0.2px;font-size:40.6px">Signal (mV)</text>
<text x="159.6" y="66.8" style="font-family:'DejaVu Serif','Liberation Serif',serif;letter-spacing:0.2px;font-size:40.6px">(a)</text>
<text x="540" y="66.8" style="font-family:'DejaVu Serif','Liberation Serif',serif;letter-spacing:0.2px;font-size:40.6px">(b)</text>
<text x="920.2" y="66.8" style="font-family:'DejaVu Serif','Liberation Serif',serif;letter-spacing:0.2px;font-size:40.6px">(c)</text>
<text x="1316" y="66.8" style="font-family:'DejaVu Serif','Liberation Serif',serif;letter-spacing:0.2px;font-size:40.6px">(d)</text>
<text x="190.5" y="680.6" style="font-family:'DejaVu Sans','Liberation Sans',sans-serif;font-style:italic;font-size:41.4px">lin</text>
<text x="247.1" y="680.6" style="font-family:'DejaVu Sans','Liberation Sans',sans-serif;font-size:41.4px">∥</text>
<text x="275.7" y="680.6" style="font-family:'DejaVu Sans','Liberation Sans',sans-serif;font-style:italic;font-size:41.4px">lin</text>
<text x="585.9" y="680.1" style="font-family:'DejaVu Sans','Liberation Sans',sans-serif;font-style:italic;font-size:41.4px">lin</text>
<text x="634.3" y="680.1" style="font-family:'DejaVu Sans','Liberation Sans',sans-serif;font-size:41.4px">⊥</text>
<text x="670.2" y="680.1" style="font-family:'DejaVu Sans','Liberation Sans',sans-serif;font-style:italic;font-size:41.4px">lin</text>
<text x="981.5" y="679.2" style="font-family:'DejaVu Sans','Liberation Sans',sans-serif;font-style:italic;font-size:41.4px">σ</text>
<text x="1014.9" y="664" style="font-family:'DejaVu Sans','Liberation Sans',sans-serif;font-size:28.42px">+</text>
<text x="1045.4" y="679.2" style="font-family:'DejaVu Sans','Liberation Sans',sans-serif;font-style:italic;font-size:41.4px">σ</text>
<text x="1078.8" y="664" style="font-family:'DejaVu Sans','Liberation Sans',sans-serif;font-size:28.42px">−</text>
<text x="1376.9" y="679.2" style="font-family:'DejaVu Sans','Liberation Sans',sans-serif;font-style:italic;font-size:41.4px">σ</text>
<text x="1410.1" y="664" style="font-family:'DejaVu Sans','Liberation Sans',sans-serif;font-size:28.42px">+</text>
<text x="1441.2" y="679.2" style="font-family:'DejaVu Sans','Liberation Sans',sans-serif;font-style:italic;font-size:41.4px">σ</text>
<text x="1474.1" y="664" style="font-family:'DejaVu Sans','Liberation Sans',sans-serif;font-size:28.42px">+</text>
<rect x="1610.6" y="66.8" width="237.8" height="192.2" rx="8.1" ry="8.1" fill="#ffffff" fill-opacity="0.8" stroke="#cccccc" stroke-opacity="0.8" stroke-width="2.7"/>
<path d="M1626.8 99.8H1708.0" stroke="#000" stroke-width="4.08" stroke-dasharray="15.1 6.53"/>
<path d="M1626.8 159.9H1708.0" stroke="#f00" stroke-width="4.08" stroke-dasharray="15.1 6.53"/>
<path d="M1626.8 220H1708.0" stroke="#808080" stroke-width="4.08" stroke-linecap="square"/>
<text x="1741.6" y="114.9" style="font-family:'DejaVu Serif','Liberation Serif',serif;letter-spacing:0.2px;font-size:40.6px">75%</text>
<text x="1741.6" y="174.0" style="font-family:'DejaVu Serif','Liberation Serif',serif;letter-spacing:0.2px;font-size:40.6px">50%</text>
<text x="1741.6" y="234.4" style="font-family:'DejaVu Serif','Liberation Serif',serif;letter-spacing:0.2px;font-size:40.6px">Exp</text></svg>
</body></html>
